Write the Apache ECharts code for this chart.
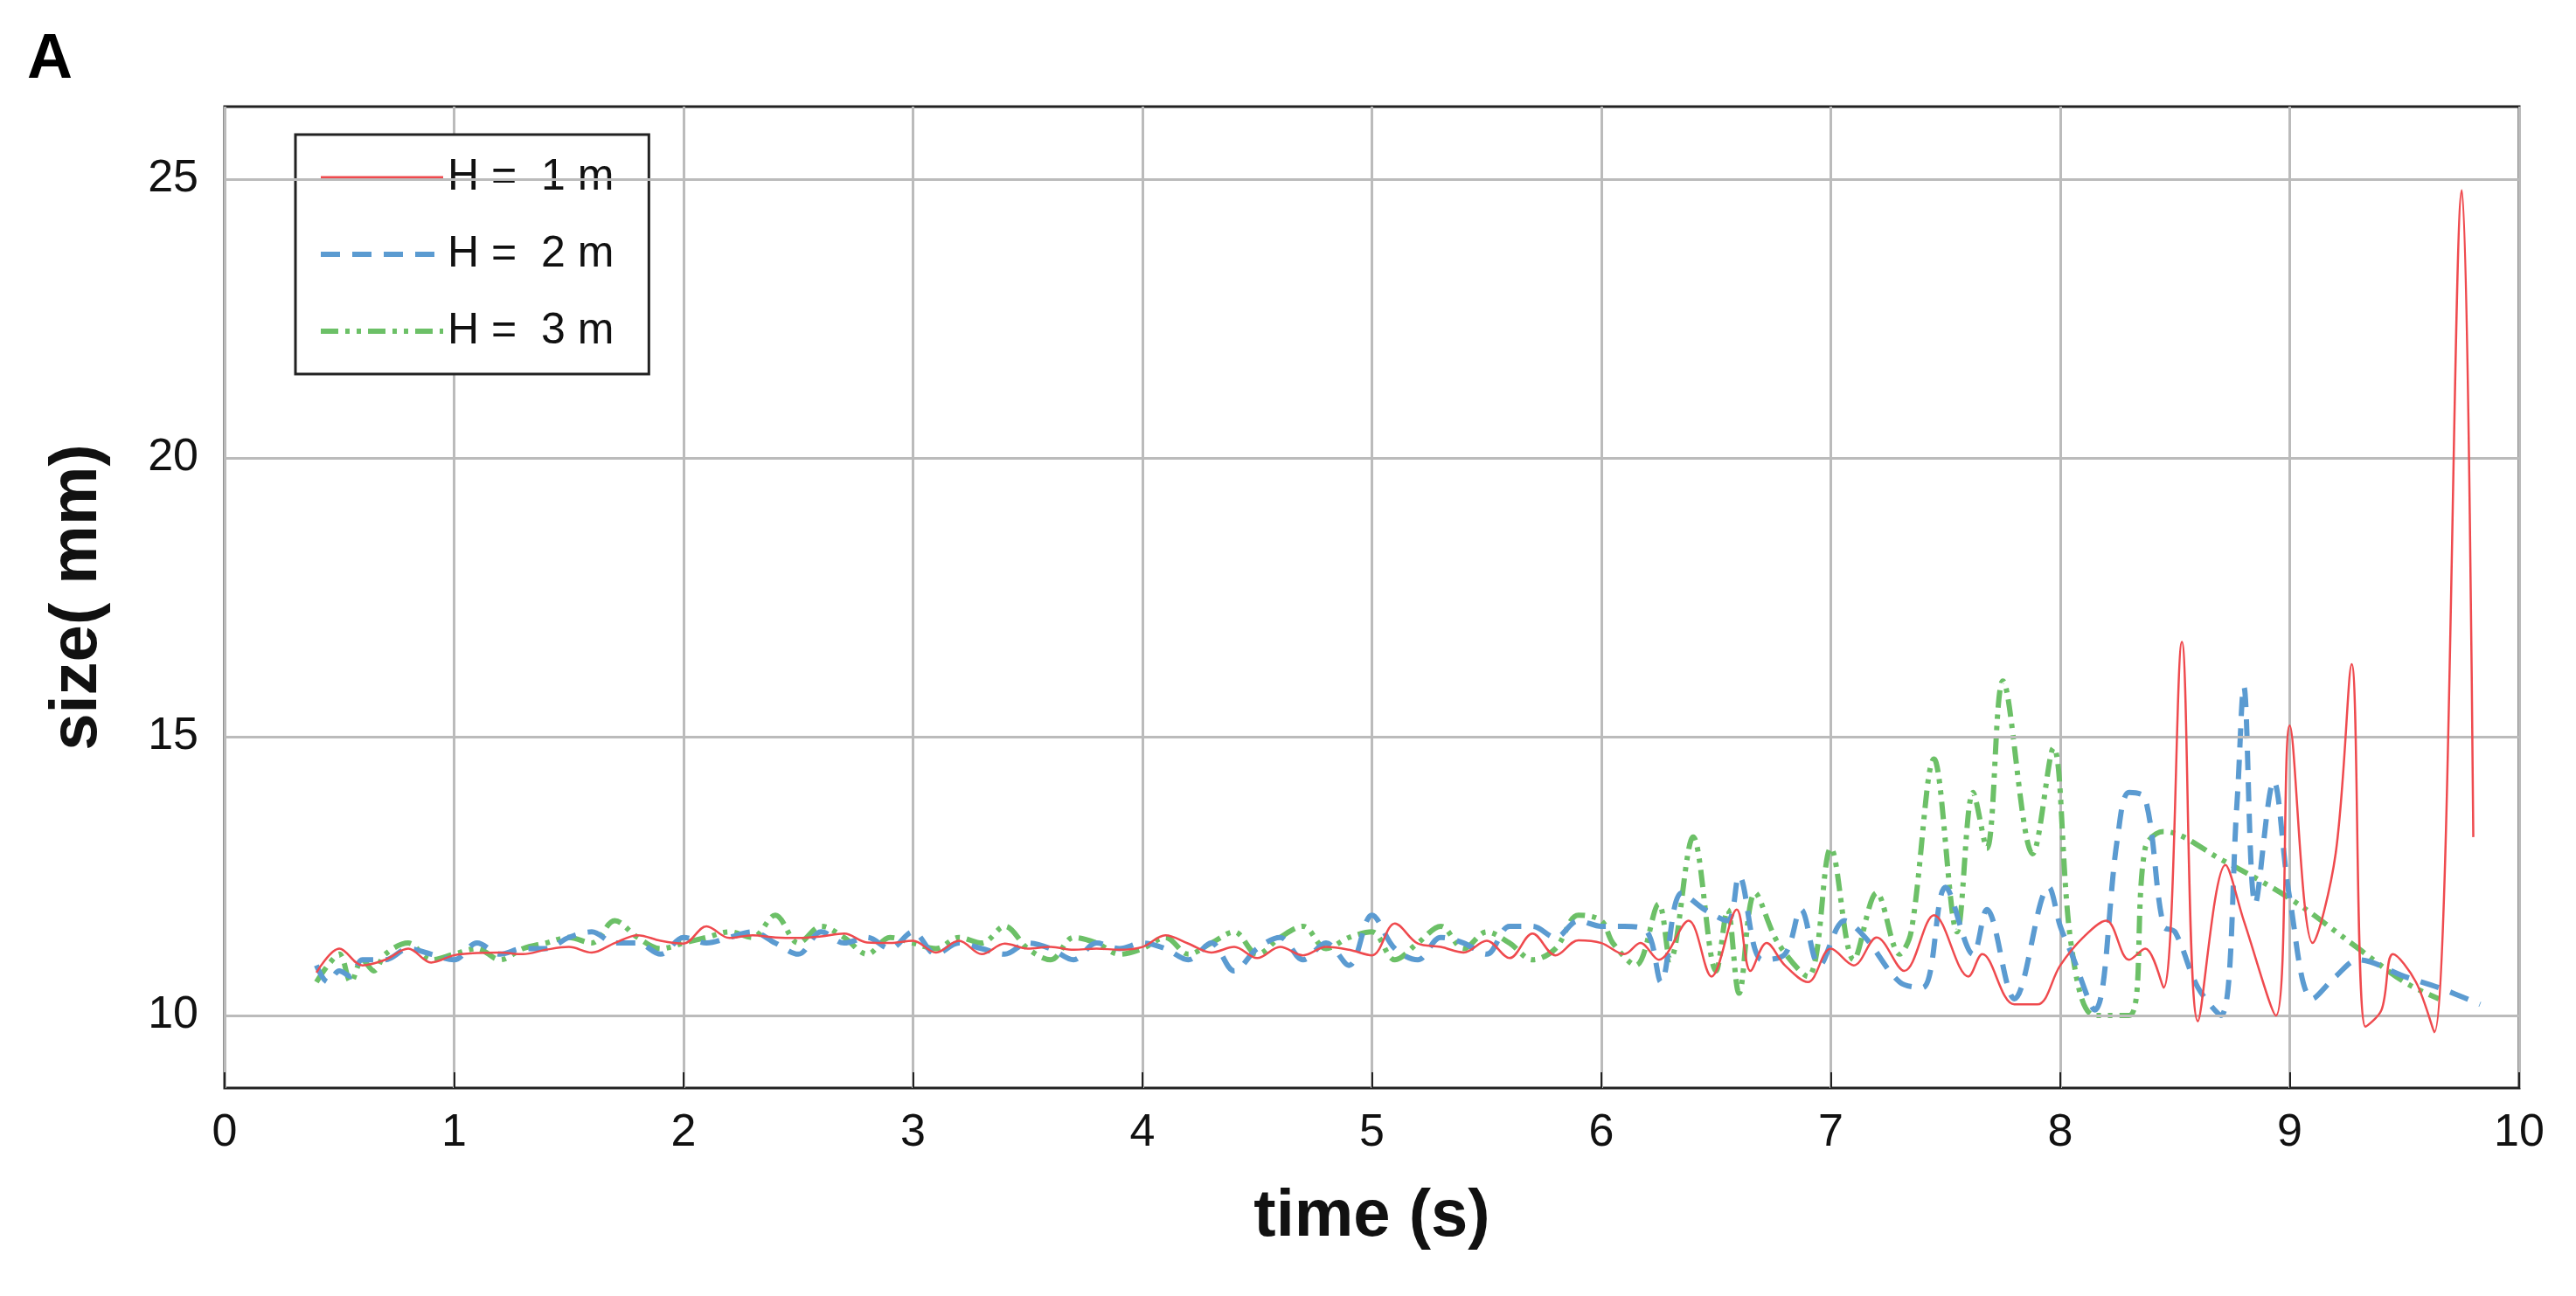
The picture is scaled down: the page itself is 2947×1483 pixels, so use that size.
<!DOCTYPE html>
<html><head><meta charset="utf-8">
<script src="https://cdn.jsdelivr.net/npm/echarts@6/dist/echarts.min.js"></script>
<style>html,body{margin:0;padding:0;background:#fff}#c{width:2947px;height:1483px}</style>
</head><body><div id="c"></div>
<script>
const seriesNames = ['H =  1 m', 'H =  2 m', 'H =  3 m'];
const xTicks = [0,1,2,3,4,5,6,7,8,9,10];
const yTicks = [10,15,20,25];
// H = 1 m
const t1 = [0.4,0.5,0.6,0.7,0.8,0.9,1.0,1.1,1.2,1.3,1.4,1.5,1.6,1.7,1.8,1.9,2.0,2.1,2.2,2.3,2.4,2.5,2.6,2.7,2.8,2.9,3.0,3.1,3.2,3.3,3.4,3.5,3.6,3.7,3.8,3.9,4.0,4.1,4.2,4.3,4.4,4.5,4.6,4.7,4.8,4.9,5.0,5.1,5.2,5.3,5.4,5.5,5.6,5.7,5.8,5.9,
 6.0,6.1,6.17,6.25,6.38,6.48,6.59,6.65,6.72,6.8,6.9,7.0,7.1,7.2,7.32,7.45,7.6,7.66,7.8,7.9,8.0,8.1,8.2,8.3,8.37,8.45,8.53,8.6,8.72,8.8,8.94,9.0,9.1,9.2,9.27,9.33,9.4,9.45,9.55,9.63,9.75,9.8];
const v1 = [10.77,11.2,10.9,11.0,11.2,10.95,11.08,11.12,11.13,11.1,11.18,11.23,11.13,11.3,11.44,11.34,11.29,11.6,11.39,11.44,11.4,11.39,11.42,11.47,11.31,11.3,11.34,11.13,11.34,11.1,11.29,11.2,11.23,11.18,11.2,11.18,11.23,11.44,11.29,11.13,11.23,11.03,11.23,11.08,11.23,11.18,11.08,11.65,11.29,11.23,11.13,11.34,11.03,11.47,11.08,11.35,
 11.3,11.1,11.3,11.0,11.7,10.7,11.9,10.8,11.3,10.9,10.6,11.2,10.9,11.4,10.8,11.8,10.7,11.1,10.2,10.2,10.9,11.4,11.7,11.0,11.2,10.5,16.7,9.9,12.7,11.7,10.0,15.2,11.3,12.9,16.3,9.8,10.1,11.1,10.6,9.7,24.8,13.2];
// H = 2 m
const t2 = [0.4,0.45,0.5,0.55,0.6,0.7,0.8,0.9,1.0,1.1,1.2,1.3,1.4,1.5,1.6,1.7,1.8,1.9,2.0,2.1,2.2,2.3,2.4,2.5,2.6,2.7,2.8,2.9,3.0,3.1,3.2,3.3,3.4,3.5,3.6,3.7,3.8,3.9,4.0,4.1,4.2,4.3,4.4,4.5,4.6,4.7,4.8,4.9,5.0,5.1,5.2,5.3,5.4,5.5,5.6,5.7,5.8,5.9,
 6.0,6.1,6.2,6.26,6.35,6.45,6.55,6.6,6.7,6.8,6.87,6.95,7.06,7.15,7.3,7.4,7.5,7.62,7.68,7.8,7.95,8.0,8.05,8.15,8.25,8.3,8.37,8.45,8.5,8.6,8.7,8.77,8.8,8.85,8.93,9.0,9.1,9.2,9.3,9.5,9.65,9.83];
const v2 = [10.9,10.6,10.8,10.7,11.0,11.0,11.2,11.1,11.0,11.3,11.1,11.2,11.2,11.4,11.5,11.3,11.3,11.1,11.4,11.3,11.4,11.5,11.3,11.1,11.5,11.3,11.4,11.2,11.5,11.1,11.3,11.2,11.1,11.3,11.2,11.0,11.3,11.2,11.3,11.2,11.0,11.3,10.8,11.2,11.4,11.0,11.3,10.9,11.8,11.2,11.0,11.4,11.3,11.1,11.6,11.6,11.4,11.7,
 11.6,11.6,11.5,10.6,12.2,11.9,11.7,12.5,11.0,11.1,11.9,10.9,11.7,11.4,10.6,10.5,12.3,11.1,11.9,10.3,12.3,11.6,11.1,10.1,13.2,14.0,13.9,11.6,11.5,10.5,10.0,13.8,15.9,12.0,14.2,12.1,10.3,10.7,11.0,10.7,10.5,10.2];
// H = 3 m
const t3 = [0.4,0.45,0.5,0.55,0.6,0.65,0.7,0.8,0.9,1.0,1.1,1.2,1.3,1.4,1.5,1.6,1.7,1.8,1.9,2.0,2.1,2.2,2.3,2.4,2.5,2.6,2.7,2.8,2.9,3.0,3.1,3.2,3.3,3.4,3.5,3.6,3.7,3.8,3.9,4.0,4.1,4.2,4.3,4.4,4.5,4.6,4.7,4.8,4.9,5.0,5.1,5.2,5.3,5.4,5.5,5.6,5.7,5.8,5.9,
 6.0,6.05,6.15,6.25,6.3,6.4,6.5,6.55,6.6,6.67,6.77,6.9,7.0,7.1,7.2,7.3,7.35,7.45,7.55,7.62,7.68,7.75,7.88,7.97,8.05,8.15,8.3,8.37,8.45,8.7,9.0,9.3,9.5,9.65];
const v3 = [10.6,10.9,11.1,10.6,11.0,10.8,11.1,11.3,11.0,11.1,11.2,11.0,11.2,11.3,11.4,11.3,11.7,11.4,11.2,11.3,11.4,11.5,11.4,11.8,11.3,11.6,11.4,11.1,11.4,11.3,11.2,11.4,11.3,11.6,11.2,11.0,11.4,11.3,11.1,11.2,11.4,11.1,11.3,11.5,11.1,11.4,11.6,11.2,11.4,11.5,11.0,11.3,11.6,11.2,11.5,11.3,11.0,11.2,11.8,
 11.7,11.3,10.9,12.0,11.0,13.2,10.8,11.9,10.4,12.2,11.3,10.7,13.0,11.0,12.2,11.1,11.5,14.6,11.5,14.0,13.0,16.0,12.9,14.8,11.2,10.0,10.0,13.0,13.3,12.8,12.1,11.2,10.6,10.3];
const zip = (t, v) => t.map((x, i) => [x, v[i]]);

const chart = echarts.init(document.getElementById('c'));
const font = 'Liberation Sans';
chart.setOption({
  animation: false,
  textStyle: {fontFamily: font},
  title: {text: 'A', left: 26, top: 28, textStyle: {fontSize: 72, fontWeight: 'bold', color: '#000', fontFamily: font}},
  grid: {left: 257, right: 65, top: 122, bottom: 238, show: true, borderColor: '#222', borderWidth: 3, backgroundColor: 'transparent'},
  legend: {
    orient: 'vertical', left: 338, top: 154, padding: [24, 40, 24, 26],
    borderColor: '#222', borderWidth: 3, backgroundColor: '#fff',
    itemWidth: 140, itemHeight: 24, itemGap: 38,
    itemStyle: {opacity: 0},
    textStyle: {fontSize: 50, color: '#111', fontFamily: font},
    data: [
      {name: seriesNames[0], lineStyle: {width: 3, type: 'solid'}},
      {name: seriesNames[1], lineStyle: {width: 6, type: [22, 14]}},
      {name: seriesNames[2], lineStyle: {width: 6, type: [20, 8, 5, 8, 5, 8]}}
    ]
  },
  xAxis: {
    type: 'value', min: 0, max: 10, interval: 1,
    name: 'time (s)', nameLocation: 'middle', nameGap: 110,
    nameTextStyle: {fontSize: 76, fontWeight: 'bold', color: '#111', fontFamily: font},
    axisLine: {show: false}, axisTick: {inside: true, length: 18, lineStyle: {color: '#222', width: 2}},
    axisLabel: {fontSize: 52, color: '#111', margin: 26},
    splitLine: {lineStyle: {color: '#bbb', width: 3}}
  },
  yAxis: {
    type: 'value', min: 8.7, max: 26.3,
    name: 'size( mm)', nameLocation: 'middle', nameGap: 130, nameRotate: 90,
    nameTextStyle: {fontSize: 76, fontWeight: 'bold', color: '#111', fontFamily: font},
    axisLine: {show: false},
    axisTick: {show: true, inside: true, length: 18, customValues: yTicks, lineStyle: {color: '#222', width: 2}},
    axisLabel: {fontSize: 52, color: '#111', margin: 30, customValues: yTicks},
    splitLine: {show: false}
  },
  series: [
    {name: seriesNames[0], type: 'line', data: zip(t1, v1), symbol: 'none', smooth: 0.35, z: 5,
     color: '#ef4a4e', lineStyle: {width: 2.5, color: '#ef4a4e'},
     markLine: {silent: true, symbol: 'none', label: {show: false}, lineStyle: {color: '#bbb', width: 3, type: 'solid'},
       data: yTicks.map(y => ({yAxis: y}))}},
    {name: seriesNames[1], type: 'line', data: zip(t2, v2), symbol: 'none', smooth: 0.35, z: 4,
     color: '#5b9bd1', lineStyle: {width: 6, color: '#5b9bd1', type: [22, 14]}},
    {name: seriesNames[2], type: 'line', data: zip(t3, v3), symbol: 'none', smooth: 0.35, z: 3,
     color: '#6cc067', lineStyle: {width: 6, color: '#6cc067', type: [20, 8, 5, 8, 5, 8]}}
  ]
});
</script></body></html>
